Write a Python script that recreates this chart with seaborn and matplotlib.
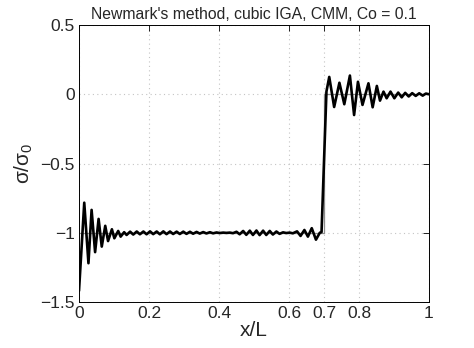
import numpy as np
import pandas as pd
import matplotlib
matplotlib.use("Agg")
import matplotlib.pyplot as plt
import seaborn as sns

# Exact solution: stress step at x/L = 0.7
x_exact = [0.0, 0.7, 0.7, 1.0]
sigma_exact = [-1.0, -1.0, 0.0, 0.0]

# Numerical solution (Newmark, cubic IGA, CMM), extrema along the bar
x_num = [
    0.000, 0.015, 0.027, 0.036, 0.046, 0.056, 0.065, 0.075, 0.083, 0.094,
    0.101, 0.112, 0.119, 0.129, 0.136,
    0.146, 0.155, 0.165, 0.174, 0.184, 0.193, 0.203, 0.212, 0.222, 0.231,
    0.241, 0.250, 0.260, 0.269, 0.279, 0.288, 0.298, 0.307, 0.317, 0.326,
    0.336, 0.345, 0.355, 0.364, 0.374, 0.383, 0.393, 0.402, 0.412, 0.421,
    0.431, 0.440, 0.450, 0.459, 0.469, 0.478, 0.488, 0.497, 0.507, 0.516,
    0.526, 0.535, 0.545, 0.554, 0.564, 0.573, 0.583, 0.592, 0.602, 0.611,
    0.623, 0.633, 0.644, 0.654, 0.665, 0.677, 0.688, 0.693,
    0.707, 0.715, 0.729, 0.744, 0.758, 0.774, 0.786, 0.797, 0.810, 0.827,
    0.839, 0.851, 0.860, 0.870, 0.879, 0.890, 0.901, 0.912, 0.922, 0.932,
    0.942, 0.952, 0.962, 0.972, 0.982, 0.991, 1.000,
]
sigma_num = [
    -1.420, -0.783, -1.220, -0.835, -1.140, -0.900, -1.100, -0.950, -1.060, -0.975,
    -1.040, -0.987, -1.028, -0.996, -1.016,
    -0.992, -1.013, -0.991, -1.011, -0.991, -1.011, -0.990, -1.010, -0.991, -1.011,
    -0.990, -1.010, -0.991, -1.009, -0.992, -1.009, -0.992, -1.008, -0.993, -1.007,
    -0.994, -1.006, -0.995, -1.005, -0.996, -1.004, -0.998, -1.002, -0.999, -1.001,
    -0.999, -1.003, -0.993, -1.011, -0.987, -1.015, -0.985, -1.016, -0.984, -1.017,
    -0.985, -1.016, -0.987, -1.013, -0.991, -1.008, -0.997, -1.002, -0.999, -1.004,
    -0.990, -1.023, -0.980, -1.028, -0.967, -1.050, -1.000, -0.995,
    0.020, 0.125, -0.092, 0.083, -0.072, 0.135, -0.150, 0.090, -0.077, 0.079,
    -0.094, 0.060, -0.046, 0.019, -0.029, 0.019, -0.029, 0.012, -0.022, 0.010,
    -0.016, 0.008, -0.012, 0.007, -0.010, 0.005, 0.000,
]

x_ticks = [0, 0.2, 0.4, 0.6, 0.7, 0.8, 1]
x_ticklabels = ["0", "0.2", "0.4", "0.6", "0.7", "0.8", "1"]
y_ticks = [-1.5, -1, -0.5, 0, 0.5]
y_ticklabels = ["\u22121.5", "\u22121", "\u22120.5", "0", "0.5"]

sns.set_style("white")
plt.rcParams["font.family"] = ["Liberation Sans", "DejaVu Sans"]
plt.rcParams["mathtext.default"] = "regular"

exact_df = pd.DataFrame({"x": x_exact, "sigma": sigma_exact})
num_df = pd.DataFrame({"x": x_num, "sigma": sigma_num})

fig = plt.figure(figsize=(4.74, 3.48), dpi=100)
ax = fig.add_axes([79 / 474, 1 - 302 / 348, 350 / 474, 277 / 348])

sns.lineplot(data=exact_df, x="x", y="sigma", ax=ax, sort=False, estimator=None,
             color="#8c8c8c", linewidth=0.9)
sns.lineplot(data=num_df, x="x", y="sigma", ax=ax, sort=False, estimator=None,
             color="black", linewidth=1.9, solid_joinstyle="round",
             solid_capstyle="round")

ax.set_xlim(0, 1)
ax.set_ylim(-1.5, 0.5)
ax.set_xticks(x_ticks)
ax.set_xticklabels(x_ticklabels)
ax.set_yticks(y_ticks)
ax.set_yticklabels(y_ticklabels)
ax.grid(True, linestyle=(0, (1, 3)), color="#c4c4c4", linewidth=0.8)
ax.tick_params(direction="in", length=4, width=0.6, labelsize=12.5,
               top=True, right=True, color="black", pad=3)
for s in ax.spines.values():
    s.set_color("black")
    s.set_linewidth(0.7)

ax.set_title("Newmark's method, cubic IGA, CMM, Co = 0.1", fontsize=11.3, pad=4)
ax.set_xlabel("x/L", fontsize=15, labelpad=0)
ax.set_ylabel(r"$\sigma/\sigma_0$", fontsize=15, labelpad=4)

fig.savefig("out.png", dpi=100)
